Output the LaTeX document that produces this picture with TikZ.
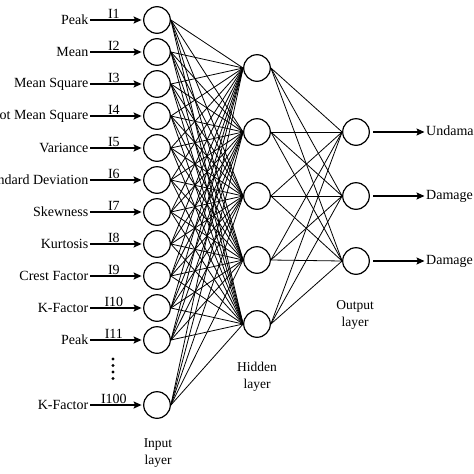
\documentclass[tikz,border=0pt]{standalone}
\usepackage{fontspec}
\setmainfont{Liberation Serif}
\usetikzlibrary{arrows.meta}
\begin{document}
\begin{tikzpicture}[x=1pt,y=-1pt,
  neuron/.style={draw,circle,minimum size=26.6pt,inner sep=0pt,line width=1.2pt},
  conn/.style={line width=0.8pt},
  feed/.style={line width=1.4pt,-{Stealth[length=8pt,width=7pt,inset=1.5pt]}},
  lab/.style={font=\fontsize{14}{17}\selectfont,inner sep=1.5pt},
  layercap/.style={font=\fontsize{13.5}{17}\selectfont,align=center,inner sep=0pt}]
\useasboundingbox (0,0) rectangle (474,474);
\clip (0,0) rectangle (474,474);
% input layer
\foreach \i/\y/\t in {1/20/Peak,2/52/Mean,3/84/Mean Square,4/116/Root Mean Square,5/148/Variance,6/180/Standard Deviation,7/212/Skewness,8/244/Kurtosis,9/276/Crest Factor,10/308/K-Factor,11/340/Peak,100/405/K-Factor}{
  \node[neuron] (in\i) at (157,\y) {};
  \node[lab,anchor=east] (l\i) at (90,\y) {\t};
  \draw[feed,shorten >=1.5pt] (l\i.east) -- node[lab,above,inner sep=0.5pt,pos=0.45] (n\i) {I\i} (in\i.west);
}
% dots
\foreach \y in {359,365.5,372,378.5}{\fill (113,\y) circle (1.6pt);}
% hidden layer
\foreach \j/\y in {1/68,2/132,3/196,4/260,5/324}{
  \node[neuron] (h\j) at (257,\y) {};
}
% output layer
\foreach \k/\y/\t in {1/132/Undamaged,2/196/Damage,3/261/Damage}{
  \node[neuron] (o\k) at (356,\y) {};
  \node[lab,anchor=west] (ol\k) at (424.5,\y) {\t};
  \draw[feed,shorten <=3.5pt] (o\k.east) -- (ol\k.west);
}
% connections
\foreach \i in {1,...,11,100}{
  \foreach \j in {1,...,5}{
    \draw[conn] (in\i.east) -- (h\j.west);
  }
}
\foreach \j in {1,...,5}{
  \foreach \k in {1,2,3}{
    \draw[conn] (h\j.east) -- (o\k.west);
  }
}
% captions
\node[layercap] (ci) at (158,453.5) {Input\\layer};
\node[layercap] (ch) at (257,377) {Hidden\\layer};
\node[layercap] (co) at (355,315) {Output\\layer};
\end{tikzpicture}
\end{document}
